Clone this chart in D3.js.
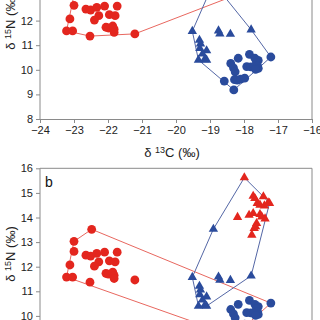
<!DOCTYPE html>
<html>
<head>
<meta charset="utf-8">
<script src="https://cdn.jsdelivr.net/npm/d3@7"></script>
<style>
  body { margin: 0; background: #fff; }
  svg { display: block; font-family: "Liberation Sans", Arial, sans-serif; }
</style>
</head>
<body>
<div id="chart"></div>
<script>
// d13C, d15N pairs
const redCircles = [
  [-23.22, 11.58], [-23.04, 11.58], [-23.12, 12.07], [-23.0, 12.62], [-23.0, 13.03],
  [-22.48, 13.52], [-22.65, 12.47], [-22.51, 12.43], [-22.33, 12.54], [-22.10, 12.59],
  [-21.73, 12.59], [-22.27, 12.2], [-22.40, 12.02], [-21.96, 12.24], [-21.79, 12.2],
  [-22.53, 11.37], [-22.06, 11.73], [-21.99, 11.70], [-21.86, 11.78], [-21.82, 11.65],
  [-21.82, 11.52], [-21.21, 11.46]
];
const blueCircles = [
  [-18.39, 10.26], [-18.17, 10.47], [-17.84, 10.63], [-17.68, 10.47], [-17.58, 10.38],
  [-17.63, 10.3], [-17.21, 10.52], [-18.31, 10.08], [-18.26, 9.92], [-17.92, 10.13],
  [-17.8, 10.12], [-17.7, 10.13], [-17.6, 10.16], [-17.58, 10.06], [-17.66, 10.02],
  [-18.58, 9.54], [-18.28, 9.6], [-18.2, 9.58], [-18.1, 9.62], [-17.98, 9.66],
  [-18.3, 9.18]
];
const blueTriangles = [
  [-18.9, 13.53], [-19.52, 11.57], [-19.31, 11.21], [-19.28, 11.06], [-19.3, 10.87],
  [-19.1, 10.78], [-19.22, 10.65], [-19.34, 10.4], [-19.16, 10.42], [-19.1, 10.4],
  [-18.75, 11.59], [-18.71, 11.46], [-18.4, 11.45], [-17.79, 11.63]
];
const redTriangles = [
  [-17.99, 15.62], [-17.73, 14.87], [-17.68, 14.78], [-17.43, 14.85], [-17.61, 14.58],
  [-17.53, 14.51], [-17.40, 14.48], [-17.29, 14.60], [-17.25, 14.58], [-17.73, 14.17],
  [-17.85, 14.10], [-17.53, 14.13], [-17.48, 14.03], [-17.38, 13.95], [-18.19, 14.01],
  [-17.63, 13.76], [-17.66, 13.63], [-17.70, 13.56], [-17.77, 13.29]
];
const xTicks = [-24, -23, -22, -21, -20, -19, -18, -17, -16];
const yTicks = [8, 9, 10, 11, 12, 13, 14, 15, 16];

const RED = '#e3261e';
const BLUE = '#2a4b9c';
const RED_LINE = '#e8675f';
const BLUE_LINE = '#5467a6';
const AXIS = '#8a8a8a';

const width = 320;
const height = 320;
const unitY = 24.6;

const svg = d3.select('#chart').append('svg')
  .attr('width', width)
  .attr('height', height);

const x = d3.scaleLinear().domain([-24, -16]).range([40, 312]);

// two stacked panels; the figure is cropped so only parts of them show
const panels = [
  { label: 'a', bottom: 119, titleY: 22, hulls: [
      { pts: redCircles.concat(redTriangles), color: RED_LINE },
      { pts: blueCircles.concat(blueTriangles), color: BLUE_LINE }] },
  { label: 'b', bottom: 168.3 + 8 * unitY, titleY: 254, hulls: [
      { pts: redCircles.concat(blueCircles), color: RED_LINE },
      { pts: redTriangles.concat(blueTriangles), color: BLUE_LINE }] }
];

const visible = v => v > -2 && v < height + 8;

panels.forEach((p) => {
  const y = d3.scaleLinear().domain([8, 16]).range([p.bottom, p.bottom - 8 * unitY]);
  const g = svg.append('g');

  // frame (top and right)
  g.append('path')
    .attr('d', `M${x(-24)},${y(16)}H${x(-16)}V${y(8)}`)
    .attr('fill', 'none')
    .attr('stroke', AXIS)
    .attr('stroke-width', 1);

  const yAxis = g.append('g')
    .attr('transform', `translate(${x(-24)},0)`)
    .call(d3.axisLeft(y).tickValues(yTicks.filter(t => visible(y(t)))).tickSize(4).tickPadding(3));
  yAxis.select('.domain').attr('d', `M0,${y(16)}V${y(8)}`);
  const axes = [yAxis];
  if (visible(y(8))) {
    const xAxis = g.append('g')
      .attr('transform', `translate(0,${y(8)})`)
      .call(d3.axisBottom(x).tickValues(xTicks).tickSize(4).tickPadding(3));
    axes.push(xAxis);

    const xt = g.append('text')
      .attr('x', 172)
      .attr('y', y(8) + 38)
      .attr('text-anchor', 'middle')
      .attr('fill', '#222')
      .style('font-size', '13px');
    xt.append('tspan').text('δ ');
    xt.append('tspan').attr('dy', -4).style('font-size', '9px').text('13');
    xt.append('tspan').attr('dy', 4).text('C (‰)');
  }
  axes.forEach((ax) => {
    ax.selectAll('path, line').attr('stroke', AXIS);
    ax.selectAll('text')
      .attr('fill', '#222')
      .style('font-size', '11px')
      .style('font-family', '"Liberation Sans", Arial, sans-serif');
  });

  // y title
  const yt = g.append('text')
    .attr('transform', `translate(15,${p.titleY}) rotate(-90)`)
    .attr('text-anchor', 'middle')
    .attr('fill', '#222')
    .style('font-size', '13px');
  yt.append('tspan').text('δ ');
  yt.append('tspan').attr('dy', -4).style('font-size', '9px').text('15');
  yt.append('tspan').attr('dy', 4).text('N (‰)');

  if (visible(y(16))) {
    g.append('text')
      .attr('x', x(-24) + 5)
      .attr('y', y(16) + 19)
      .attr('fill', '#111')
      .style('font-size', '14px')
      .text(p.label);
  }

  // convex hulls
  p.hulls.forEach((h) => {
    const hull = d3.polygonHull(h.pts.map(d => [x(d[0]), y(d[1])]));
    g.append('path')
      .attr('d', `M${hull.join('L')}Z`)
      .attr('fill', 'none')
      .attr('stroke', h.color)
      .attr('stroke-width', 1);
  });

  const tri = d3.symbol().type(d3.symbolTriangle).size(38);
  const drawTri = (data, color) => {
    g.append('g').selectAll('path')
      .data(data)
      .join('path')
      .attr('d', tri)
      .attr('transform', d => `translate(${x(d[0])},${y(d[1])})`)
      .attr('fill', color);
  };
  const drawCirc = (data, color) => {
    g.append('g').selectAll('circle')
      .data(data)
      .join('circle')
      .attr('cx', d => x(d[0]))
      .attr('cy', d => y(d[1]))
      .attr('r', 4.4)
      .attr('fill', color);
  };
  drawTri(blueTriangles, BLUE);
  drawTri(redTriangles, RED);
  drawCirc(redCircles, RED);
  drawCirc(blueCircles, BLUE);
});
</script>
</body>
</html>
